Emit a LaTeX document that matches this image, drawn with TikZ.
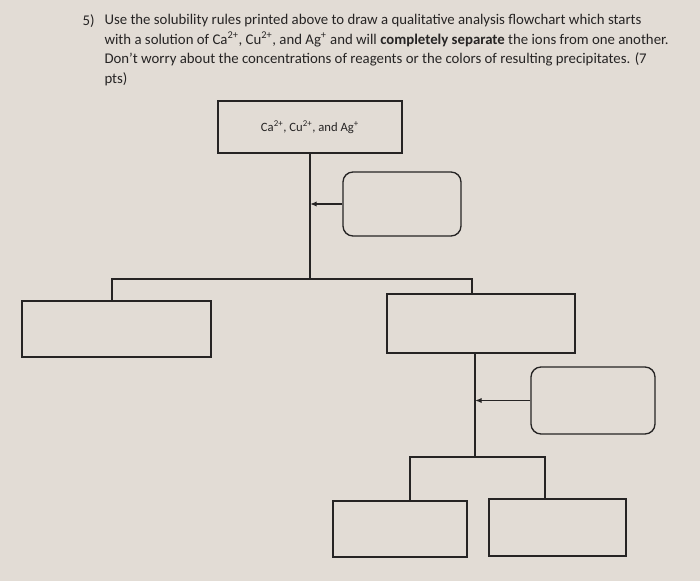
\documentclass[tikz,border=0pt]{standalone}
\usepackage{fontspec}
\setmainfont{Carlito}
\usetikzlibrary{positioning,arrows.meta}
\definecolor{paper}{RGB}{226,220,213}
\definecolor{ink}{RGB}{38,36,36}
\tikzset{every picture/.style={line width=0.75pt}}
\tikzset{
  box/.style={draw=ink, line width=1pt, inner sep=0pt},
  roundbox/.style={box, rounded corners=7.5pt},
  feed/.style={draw=ink, line width=1pt, -{Latex[length=5pt,width=4pt]}},
  link/.style={draw=ink, line width=1pt},
  question/.style={anchor=north west, inner sep=0pt, text=ink, font=\fontsize{11.1}{14.6}\selectfont}
}
\begin{document}
\begin{tikzpicture}[x=0.75pt,y=0.75pt,yscale=-1,xscale=1]
	%set diagram to the size of the photo
	\fill[paper] (0,0) rectangle (700,581);
	\useasboundingbox (0,0) rectangle (700,581);

	% Question text
	\node [question] (qnum) at (82,14) {5)};
	\node [question, align=left] (qtext) at (104,14) {Use the solubility rules printed above to draw a qualitative analysis flowchart which starts\\
		with a solution of Ca\textsuperscript{2+}, Cu\textsuperscript{2+}, and Ag\textsuperscript{+} and will \textbf{completely separate} the ions from one another.\\
		Don't worry about the concentrations of reagents or the colors of resulting precipitates. (7\\
		pts)};

	% Boxes
	\node [box, minimum width=138pt, minimum height=39pt, text=ink, font=\fontsize{9.5}{11}\selectfont] (ions) at (310,127) {Ca\textsuperscript{2+}, Cu\textsuperscript{2+}, and Ag\textsuperscript{+}};
	\node [roundbox, minimum width=88.5pt, minimum height=48pt] (reagA) at (402,204) {};
	\node [box, minimum width=141.75pt, minimum height=42pt] (lft) at (116.5,329) {};
	\node [box, minimum width=141pt, minimum height=44.25pt] (rgt) at (481,323.5) {};
	\node [roundbox, minimum width=93pt, minimum height=50.25pt] (reagB) at (593,400.5) {};
	\node [box, minimum width=100.5pt, minimum height=42pt] (botl) at (400,529) {};
	\node [box, minimum width=102.75pt, minimum height=42.75pt] (botr) at (557.5,527.5) {};

	% Junctions
	\coordinate (split1) at (310,279);
	\coordinate (dropL) at (112,279);
	\coordinate (dropR) at (472,279);
	\coordinate (split2) at (475,457);
	\coordinate (dropBL) at (410,457);
	\coordinate (dropBR) at (545,457);

	% Connectors
	\draw [link] (ions) -- (split1);
	\draw [link] (dropL |- lft.north) -- (dropL) -- (dropR) -- (dropR |- rgt.north);
	\draw [feed] (reagA.west) -- (reagA.west -| split1);
	\draw [link] (split2 |- rgt.south) -- (split2);
	\draw [link] (dropBL |- botl.north) -- (dropBL) -- (dropBR) -- (dropBR |- botr.north);
	\draw [feed] (reagB.west) -- (reagB.west -| split2);
\end{tikzpicture}
\end{document}
